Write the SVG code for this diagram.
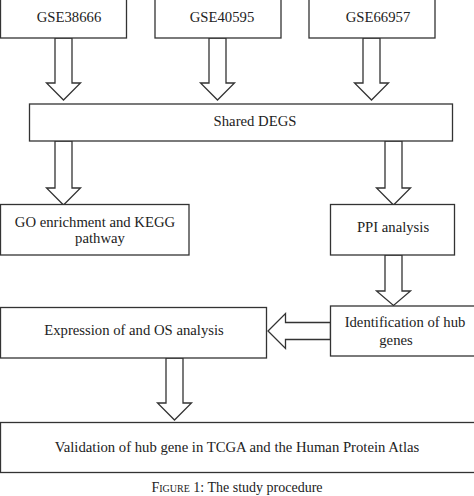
<svg xmlns="http://www.w3.org/2000/svg" width="474" height="496" viewBox="0 0 474 496">
<style>
.box{fill:#fff;stroke:#333;stroke-width:1.3}
.arr{fill:#fff;stroke:#333;stroke-width:1.3;stroke-linejoin:miter}
text{font-family:"Liberation Serif","Times New Roman",serif;font-size:14.7px;fill:#222;text-anchor:middle}
</style>
<rect width="474" height="496" fill="#fff"/>
<g id="connectors">
<polygon class="arr" points="55,38 72,38 72,83 80.5,83 63.5,100 46.5,83 55,83"/>
<polygon class="arr" points="209,38 226,38 226,83 234.5,83 217.5,100 200.5,83 209,83"/>
<polygon class="arr" points="363,38 380,38 380,83 388.5,83 371.5,100 354.5,83 363,83"/>
<polygon class="arr" points="55,141 72,141 72,188 80.5,188 63.5,205 46.5,188 55,188"/>
<polygon class="arr" points="385,141 402,141 402,188 410.5,188 393.5,205 376.5,188 385,188"/>
<polygon class="arr" points="385,255 402,255 402,291 410.5,291 393.5,305.5 376.5,291 385,291"/>
<polygon class="arr" points="330.5,322.5 285.5,322.5 285.5,313.5 268,331 285.5,348.5 285.5,339.5 330.5,339.5"/>
<polygon class="arr" points="166,358 183,358 183,403 191.5,403 174.5,420 157.5,403 166,403"/>
</g>
<g id="gse38666"><rect class="box" x="0.5" y="-1" width="126" height="39"/><text x="69" y="21.5">GSE38666</text></g>
<g id="gse40595"><rect class="box" x="155" y="-1" width="126" height="39"/><text x="222" y="21.5">GSE40595</text></g>
<g id="gse66957"><rect class="box" x="309" y="-1" width="126" height="39"/><text x="378" y="21.5">GSE66957</text></g>
<g id="shared"><rect class="box" x="29.5" y="104" width="423" height="37"/><text x="255" y="125.5">Shared DEGS</text></g>
<g id="go"><rect class="box" x="0.5" y="204.5" width="188.5" height="50.5"/><text x="95" y="226.7">GO enrichment and KEGG</text><text x="100" y="243">pathway</text></g>
<g id="ppi"><rect class="box" x="330.5" y="204.5" width="124" height="50.5"/><text x="393" y="231.7">PPI analysis</text></g>
<g id="hub"><rect class="box" x="330.5" y="306" width="146" height="50"/><text x="405" y="326.7">Identification of hub</text><text x="396" y="345">genes</text></g>
<g id="expr"><rect class="box" x="0.5" y="307.5" width="266" height="50.5"/><text x="134" y="335">Expression of and OS analysis</text></g>
<g id="valid"><rect class="box" x="0.5" y="422.5" width="476" height="50"/><text x="237" y="451.7">Validation of hub gene in TCGA and the Human Protein Atlas</text></g>
<text x="237" y="492" style="font-size:14px">F<tspan style="font-variant:small-caps">igure</tspan> 1: The study procedure</text>
</svg>
